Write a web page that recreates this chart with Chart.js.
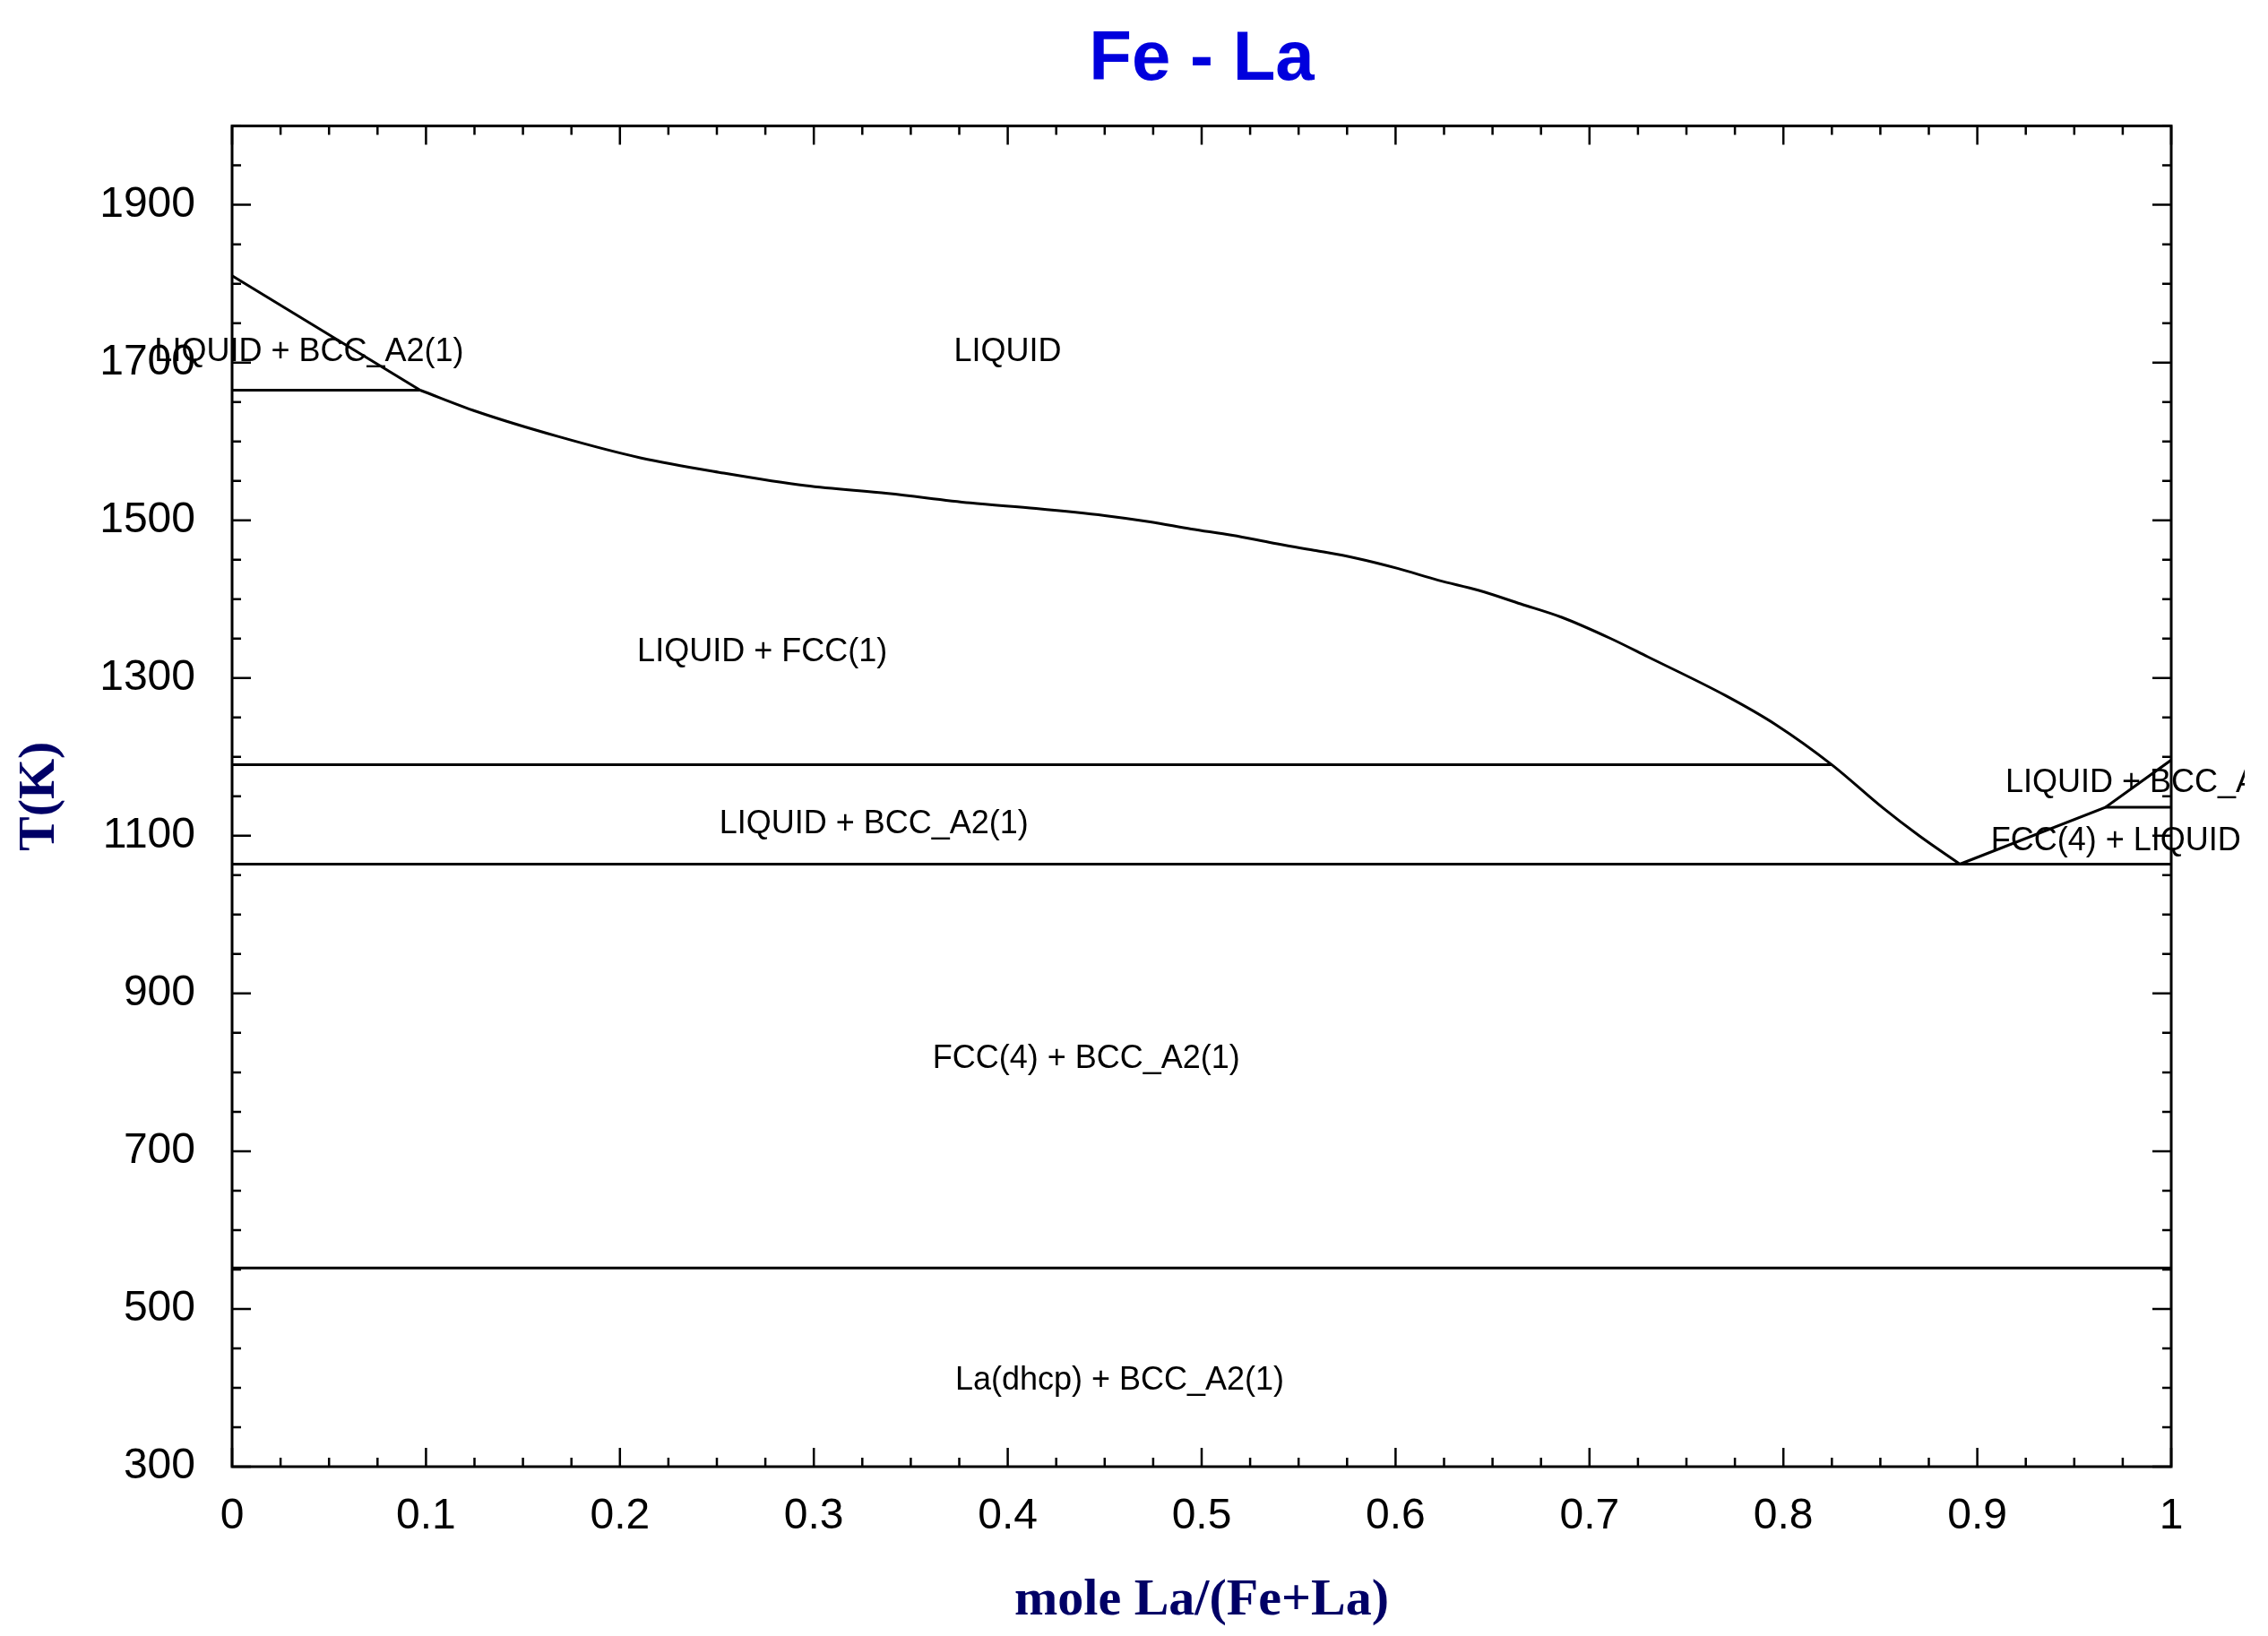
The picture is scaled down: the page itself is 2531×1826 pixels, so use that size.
<!DOCTYPE html>
<html>
<head>
<meta charset="utf-8">
<title>Fe - La</title>
<script src="https://cdn.jsdelivr.net/npm/chart.js@4.4.1/dist/chart.umd.min.js"></script>
<style>
  html, body { margin: 0; padding: 0; background: #fff; }
  #chart { display: block; }
</style>
</head>
<body>
<canvas id="chart" width="2531" height="1826"></canvas>
<script>
// tick labels
const xTicks = [0, 0.1, 0.2, 0.3, 0.4, 0.5, 0.6, 0.7, 0.8, 0.9, 1];
const yTicks = [300, 500, 700, 900, 1100, 1300, 1500, 1700, 1900];

// liquidus, Fe rich side above the delta/gamma line
const liqBccX = [0, 0.097];
const liqBccT = [1810, 1665];

// liquidus, Fe rich side down to the eutectic
const liqFccX = [0.097, 0.126, 0.1685, 0.211, 0.2534, 0.2958, 0.3383, 0.3807, 0.4145, 0.450,
                 0.4735, 0.4947, 0.516, 0.537, 0.558, 0.5796, 0.601, 0.622, 0.643, 0.6645,
                 0.6857, 0.711, 0.730, 0.770, 0.796, 0.825, 0.851, 0.870, 0.891];
const liqFccT = [1665, 1638, 1606, 1579, 1560, 1544, 1534, 1522, 1515, 1506,
                 1498, 1489, 1481, 1471, 1462, 1452, 1439, 1424, 1411, 1394,
                 1377, 1350, 1327, 1278, 1241, 1190, 1136, 1100, 1064];

// liquidus, La rich side
const liqLaX = [0.891, 0.966, 1.0];
const liqLaT = [1064, 1136, 1196];

// horizontal (invariant / transition) lines
const isoT    = [1665, 1190, 1064, 552, 1136];
const isoFrom = [0, 0, 0, 0, 0.966];
const isoTo   = [0.097, 0.825, 1, 1, 1];

// phase region labels
const regionText = ['LIQUID + BCC_A2(1)', 'LIQUID', 'LIQUID + FCC(1)', 'LIQUID + BCC_A2(1)',
                    'LIQUID + BCC_A2(1)', 'FCC(4) + LIQUID', 'FCC(4) + BCC_A2(1)', 'La(dhcp) + BCC_A2(1)'];
const regionX = [0.0397, 0.400, 0.2734, 0.331, 0.9145, 0.907, 0.4405, 0.4577];
const regionT = [1713, 1713, 1333, 1115, 1167, 1093, 817, 409];
const regionAlign = ['center', 'center', 'center', 'center', 'left', 'left', 'center', 'center'];

function pts(xs, ts) {
  return xs.map((v, i) => ({x: v, y: ts[i]}));
}

const lineStyle = {
  showLine: true,
  borderColor: '#000',
  borderWidth: 3,
  pointRadius: 0,
  fill: false
};

const datasets = [
  Object.assign({data: pts(liqBccX, liqBccT)}, lineStyle),
  Object.assign({data: pts(liqFccX, liqFccT), cubicInterpolationMode: 'monotone'}, lineStyle),
  Object.assign({data: pts(liqLaX, liqLaT)}, lineStyle)
];
isoT.forEach((t, i) => {
  datasets.push(Object.assign({data: pts([isoFrom[i], isoTo[i]], [t, t])}, lineStyle));
});

// frame, inward ticks on all sides, region labels
const frameAndLabels = {
  id: 'frameAndLabels',
  afterDatasetsDraw(chart) {
    const {ctx, chartArea: a, scales: {x, y}} = chart;
    ctx.save();
    ctx.strokeStyle = '#000';
    ctx.lineWidth = 2.5;
    ctx.beginPath();
    for (let i = 0; i <= 40; i++) {
      const px = x.getPixelForValue(i * 0.025);
      const len = i % 4 === 0 ? 21 : 10;
      ctx.moveTo(px, a.bottom); ctx.lineTo(px, a.bottom - len);
      ctx.moveTo(px, a.top); ctx.lineTo(px, a.top + len);
    }
    for (let i = 0; i <= 34; i++) {
      const v = 300 + i * 50;
      const py = y.getPixelForValue(v);
      const len = (v - 300) % 200 === 0 ? 21 : 10;
      ctx.moveTo(a.left, py); ctx.lineTo(a.left + len, py);
      ctx.moveTo(a.right, py); ctx.lineTo(a.right - len, py);
    }
    ctx.stroke();
    ctx.lineWidth = 3;
    ctx.strokeRect(a.left, a.top, a.right - a.left, a.bottom - a.top);

    // the original picture is cut just short of its right edge
    ctx.beginPath();
    ctx.rect(0, 0, 2505, chart.height);
    ctx.clip();
    ctx.fillStyle = '#000';
    ctx.font = '36px "Liberation Sans", Arial, sans-serif';
    ctx.textBaseline = 'middle';
    regionText.forEach((txt, i) => {
      ctx.textAlign = regionAlign[i];
      ctx.fillText(txt, x.getPixelForValue(regionX[i]), y.getPixelForValue(regionT[i]));
    });
    ctx.restore();
  }
};

const tickFont = {family: '"Liberation Sans", Arial, sans-serif', size: 48};
const axisTitleFont = {family: '"Liberation Serif", "Times New Roman", serif', size: 58, weight: 'bold'};

new Chart(document.getElementById('chart'), {
  type: 'scatter',
  data: {datasets: datasets},
  options: {
    responsive: false,
    devicePixelRatio: 1,
    animation: false,
    layout: {padding: {left: 0, right: 108, top: 0, bottom: 0}},
    plugins: {
      legend: {display: false},
      tooltip: {enabled: false},
      title: {
        display: true,
        text: 'Fe - La',
        color: '#0000dd',
        fullSize: false,
        font: {family: '"Liberation Sans", Arial, sans-serif', size: 78, weight: 'bold'},
        padding: {top: 21, bottom: 26}
      }
    },
    scales: {
      x: {
        type: 'linear',
        min: 0,
        max: 1,
        afterBuildTicks: s => { s.ticks = xTicks.map(v => ({value: v})); },
        afterFit: s => { s.height = 189; },
        grid: {display: false, drawTicks: false},
        border: {display: false},
        ticks: {color: '#000', font: tickFont, padding: 27, maxRotation: 0, callback: v => String(v)},
        title: {display: true, text: 'mole La/(Fe+La)', color: '#000066', font: axisTitleFont,
                padding: {top: 0, bottom: 4}}
      },
      y: {
        type: 'linear',
        min: 300,
        max: 2000,
        afterBuildTicks: s => { s.ticks = yTicks.map(v => ({value: v})); },
        afterFit: s => { s.width = 259; },
        grid: {display: false, drawTicks: false},
        border: {display: false},
        ticks: {color: '#000', font: tickFont, padding: 41, callback: v => String(v)},
        title: {display: true, text: 'T(K)', color: '#000066', font: axisTitleFont,
                padding: {top: 10, bottom: 0}}
      }
    }
  },
  plugins: [frameAndLabels]
});
</script>
</body>
</html>
